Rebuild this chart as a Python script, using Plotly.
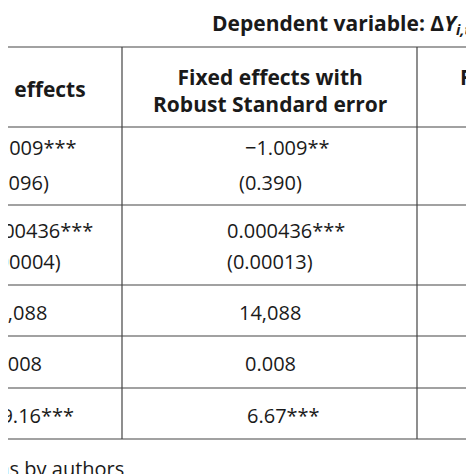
import plotly.graph_objects as go

# table content (visible part of a regression table)
headers = ["Fixed effects", "Fixed effects with<br>Robust Standard error", "Fixed effects with<br>Clustered errors"]
col0 = ["−1.009***", "(0.096)", "0.000436***", "(0.00004)", "14,088", "0.008", "59.16***"]
col1 = ["−1.009**", "(0.390)", "0.000436***", "(0.00013)", "14,088", "0.008", "6.67***"]
title = "<b>Dependent variable: Δ<i>Y</i><sub><i>i,t</i></sub></b>"
note = "Source: Estimations by authors"

W = H = 474
FONT = "Open Sans"
ink = "#1a1a1a"

fig = go.Figure()
fig.update_xaxes(range=[0, W], visible=False, fixedrange=True)
fig.update_yaxes(range=[H, 0], visible=False, fixedrange=True)

# grid lines
hlines = [39, 119, 197, 277, 328, 380, 431]
vlines = [114, 409]
for y in hlines:
    fig.add_shape(type="line", x0=-5, x1=W + 5, y0=y, y1=y, line=dict(color="#444", width=1.2))
for x in vlines:
    fig.add_shape(type="line", x0=x, x1=x, y0=39, y1=431, line=dict(color="#444", width=1.2))

def txt(x, y, s, anchor="center", size=20):
    fig.add_annotation(x=x, y=y, text=s, showarrow=False, xanchor=anchor, yanchor="middle",
                       font=dict(family=FONT, size=size, color=ink))

txt(202, 16, title, "left", 21)

# header row
txt(80, 81, "<b>" + headers[0] + "</b>", "right", 21)
txt(262, 82, "<b>" + headers[1] + "</b>", "center", 21)
txt(450, 82, "<b>" + headers[2] + "</b>", "left", 21)

# body rows: y centres for each line
ys = [139, 174, 222, 253, 304, 355, 407]
right0 = [70, 43, 87, 55, 41, 36, 68]
x1 = [279, 262, 278, 262, 262, 262, 275]
for i in range(len(ys)):
    txt(right0[i], ys[i], col0[i], "right")
    txt(x1[i], ys[i], col1[i], "center")

txt(118, 460, note, "right")

fig.update_layout(width=W, height=H, margin=dict(l=0, r=0, t=0, b=0),
                  plot_bgcolor="white", paper_bgcolor="white", showlegend=False)
fig.write_html("out.html")
